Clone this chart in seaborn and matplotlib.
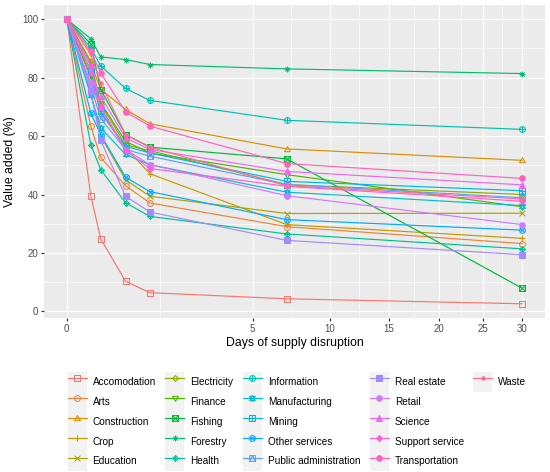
import numpy as np
import pandas as pd
import matplotlib
matplotlib.use('Agg')
import matplotlib.pyplot as plt
from matplotlib.path import Path
from matplotlib.lines import Line2D
from matplotlib.patches import Rectangle
from matplotlib.legend_handler import HandlerLine2D
import seaborn as sns

# days after the start of the disruption
days = [0, 1/12, 1/6, 0.5, 1, 7, 30]

sectors = ['Accomodation', 'Arts', 'Construction', 'Crop', 'Education',
           'Electricity', 'Finance', 'Fishing', 'Forestry', 'Health',
           'Information', 'Manufacturing', 'Mining', 'Other services',
           'Public administration', 'Real estate', 'Retail', 'Science',
           'Support service', 'Transportation', 'Waste']

# value added (%) per sector
accomodation = [100, 39.6, 24.8, 10.3, 6.4, 4.3, 2.6]
arts = [100, 63.4, 52.7, 43.0, 37.1, 29.0, 23.2]
construction = [100, 85.0, 76.0, 69.1, 64.2, 55.6, 51.7]
crop = [100, 80.0, 68.0, 56.0, 47.1, 29.7, 25.0]
education = [100, 75.0, 60.0, 45.0, 39.4, 33.5, 33.6]
electricity = [100, 85.6, 71.0, 57.0, 55.0, 43.4, 40.0]
finance = [100, 80.5, 71.4, 58.2, 54.2, 46.8, 35.8]
fishing = [100, 91.6, 75.9, 60.5, 56.2, 52.2, 7.9]
forestry = [100, 93.3, 87.1, 86.2, 84.5, 83.0, 81.4]
health = [100, 57.1, 48.5, 37.2, 32.5, 26.5, 21.4]
information = [100, 90.2, 84.0, 76.3, 72.2, 65.4, 62.3]
manufacturing = [100, 74.0, 62.8, 53.7, 50.2, 40.8, 36.2]
mining = [100, 82.4, 68.5, 56.5, 54.2, 44.5, 41.3]
other_services = [100, 67.9, 60.5, 45.9, 41.0, 31.4, 27.8]
public_admin = [100, 77.1, 66.0, 55.4, 53.1, 43.4, 38.9]
real_estate = [100, 75.3, 58.5, 39.4, 34.0, 24.3, 19.4]
retail = [100, 78.0, 70.0, 55.4, 50.2, 39.6, 29.7]
science = [100, 82.0, 73.6, 59.4, 55.4, 47.9, 43.3]
support_service = [100, 83.9, 70.0, 55.0, 48.9, 42.8, 37.7]
transportation = [100, 89.0, 81.6, 68.3, 63.4, 50.6, 45.5]
waste = [100, 88.0, 78.0, 60.5, 56.2, 43.0, 38.5]

values = [accomodation, arts, construction, crop, education, electricity,
          finance, fishing, forestry, health, information, manufacturing,
          mining, other_services, public_admin, real_estate, retail, science,
          support_service, transportation, waste]

df = pd.DataFrame({
    'day': np.tile(days, len(sectors)),
    'sector': np.repeat(sectors, len(days)),
    'value': np.concatenate(values),
})


# ggplot-like hue palette (hcl, c=100, l=65)
def hcl_hex(h, c=100, l=65):
    hr = np.radians(h)
    U, V = c * np.cos(hr), c * np.sin(hr)
    Xn, Yn, Zn = 95.047, 100.0, 108.883
    un = 4 * Xn / (Xn + 15 * Yn + 3 * Zn)
    vn = 9 * Yn / (Xn + 15 * Yn + 3 * Zn)
    Y = Yn * ((l + 16) / 116) ** 3
    u = U / (13 * l) + un
    v = V / (13 * l) + vn
    X = 9 * Y * u / (4 * v)
    Z = -X / 3 - 5 * Y + 3 * Y / v
    m = np.array([[3.2404542, -1.5371385, -0.4985314],
                  [-0.9692660, 1.8760108, 0.0415560],
                  [0.0556434, -0.2040259, 1.0572252]])
    rgb = m @ (np.array([X, Y, Z]) / 100)
    rgb = np.where(rgb <= 0.0031308, 12.92 * rgb, 1.055 * np.clip(rgb, 0, None) ** (1 / 2.4) - 0.055)
    rgb = np.clip(rgb, 0, 1)
    return '#%02x%02x%02x' % tuple(int(round(x * 255)) for x in rgb)


hues = np.linspace(15, 375, len(sectors) + 1)[:-1]
palette = {s: hcl_hex(h) for s, h in zip(sectors, hues)}

# marker shapes like ggplot's 0..20
M, L = Path.MOVETO, Path.LINETO


def seg(pts):
    return Path(pts, [M] + [L] * (len(pts) - 1))


def comp(*paths):
    return Path.make_compound_path(*paths)


sq = seg([(-1, -1), (1, -1), (1, 1), (-1, 1), (-1, -1)])
circ = Path.unit_circle()
tri = seg([(-1, -0.75), (1, -0.75), (0, 1), (-1, -0.75)])
tri_dn = seg([(-1, 0.75), (1, 0.75), (0, -1), (-1, 0.75)])
dia = seg([(0, -1.4), (1.4, 0), (0, 1.4), (-1.4, 0), (0, -1.4)])
plus = comp(seg([(-1, 0), (1, 0)]), seg([(0, -1), (0, 1)]))
cross = comp(seg([(-1, -1), (1, 1)]), seg([(-1, 1), (1, -1)]))
cross_c = comp(seg([(-0.707, -0.707), (0.707, 0.707)]), seg([(-0.707, 0.707), (0.707, -0.707)]))
star = comp(plus, cross_c)
plus_d = comp(seg([(-1.4, 0), (1.4, 0)]), seg([(0, -1.4), (0, 1.4)]))
david = comp(tri, tri_dn)
sq_tri = comp(sq, seg([(-1, -1), (0, 1), (1, -1)]))

shapes = [
    (sq, False), (circ, False), (tri, False), (plus, False), (cross, False),
    (dia, False), (tri_dn, False), (comp(sq, cross), False), (star, False),
    (comp(dia, plus_d), False), (comp(circ, plus), False), (david, False),
    (comp(sq, plus), False), (comp(circ, cross_c), False), (sq_tri, False),
    ('s', True), ('o', True), ('^', True), ('D', True), ('o', True), ('o', True),
]
msizes = [4.2] * 15 + [3.7, 4.0, 4.2, 3.1, 4.0, 2.4]

plt.rcParams['font.family'] = ['Liberation Sans', 'DejaVu Sans']

fig = plt.figure(figsize=(5.5, 4.72), dpi=100)
ax = fig.add_axes([44 / 550, 1 - 318 / 472, 501 / 550, 313 / 472])
ax.set_facecolor('#EBEBEB')

sns.lineplot(data=df, x='day', y='value', hue='sector', hue_order=sectors,
             palette=palette, errorbar=None, legend=False, linewidth=0.85, ax=ax)

for line, sector, (mk, filled), ms in zip(ax.lines, sectors, shapes, msizes):
    c = palette[sector]
    line.set_marker(mk)
    line.set_markersize(ms)
    line.set_markeredgecolor(c)
    line.set_markeredgewidth(0.75)
    line.set_markerfacecolor(c if filled else 'none')

# square-root x axis
ax.set_xscale('function', functions=(lambda x: np.sign(x) * np.sqrt(np.abs(x)),
                                      lambda x: np.sign(x) * x ** 2))
xmax = np.sqrt(max(days))
pad = 0.05 * xmax
ax.set_xlim(-pad ** 2, (xmax + pad) ** 2)
ymin, ymax = df['value'].min(), df['value'].max()
ypad = 0.05 * (ymax - ymin)
ax.set_ylim(ymin - ypad, ymax + ypad)

xmaj = np.array([0, 5, 10, 15, 20, 25, 30])
ax.set_xticks(xmaj)
sq_maj = np.sqrt(xmaj)
ax.set_xticks(((sq_maj[:-1] + sq_maj[1:]) / 2) ** 2, minor=True)
ax.set_yticks([0, 20, 40, 60, 80, 100])
ax.set_yticks([10, 30, 50, 70, 90], minor=True)

ax.grid(which='major', color='white', linewidth=0.85)
ax.grid(which='minor', color='white', linewidth=0.45)
ax.set_axisbelow(True)
for sp in ax.spines.values():
    sp.set_visible(False)
ax.tick_params(which='major', length=2.2, width=0.85, color='#333333',
               labelsize=7, labelcolor='#4D4D4D', pad=1.8)
ax.tick_params(which='minor', length=0)

ax.set_xlabel('Days of supply disruption', fontsize=8.8, labelpad=2.5)
ax.set_ylabel('Value added (%)', fontsize=8.8)
ax.yaxis.set_label_coords(-28 / 501, 0.5)


# legend keys with the light grey background of ggplot
class KeyHandler(HandlerLine2D):
    def create_artists(self, legend, orig_handle, xdescent, ydescent,
                       width, height, fontsize, trans):
        arts = super().create_artists(legend, orig_handle, xdescent, ydescent,
                                      width, height, fontsize, trans)
        bg = Rectangle((-xdescent, -ydescent), width, height,
                       facecolor='#F2F2F2', edgecolor='none', transform=trans)
        return [bg] + list(arts)


blank = [Line2D([], [], linestyle='none') for _ in range(4)]
handles = list(ax.lines) + blank
labels = sectors + [''] * 4
fig.legend(handles, labels, ncol=5, loc='upper center',
           bbox_to_anchor=(297 / 550, 1 - 372 / 472), frameon=False,
           fontsize=7.2, handlelength=1.9, handleheight=2.68,
           handletextpad=0.6, columnspacing=0.95, labelspacing=0,
           borderaxespad=0, borderpad=0,
           handler_map={ln: KeyHandler() for ln in ax.lines})

fig.savefig('out.png', dpi=100)
